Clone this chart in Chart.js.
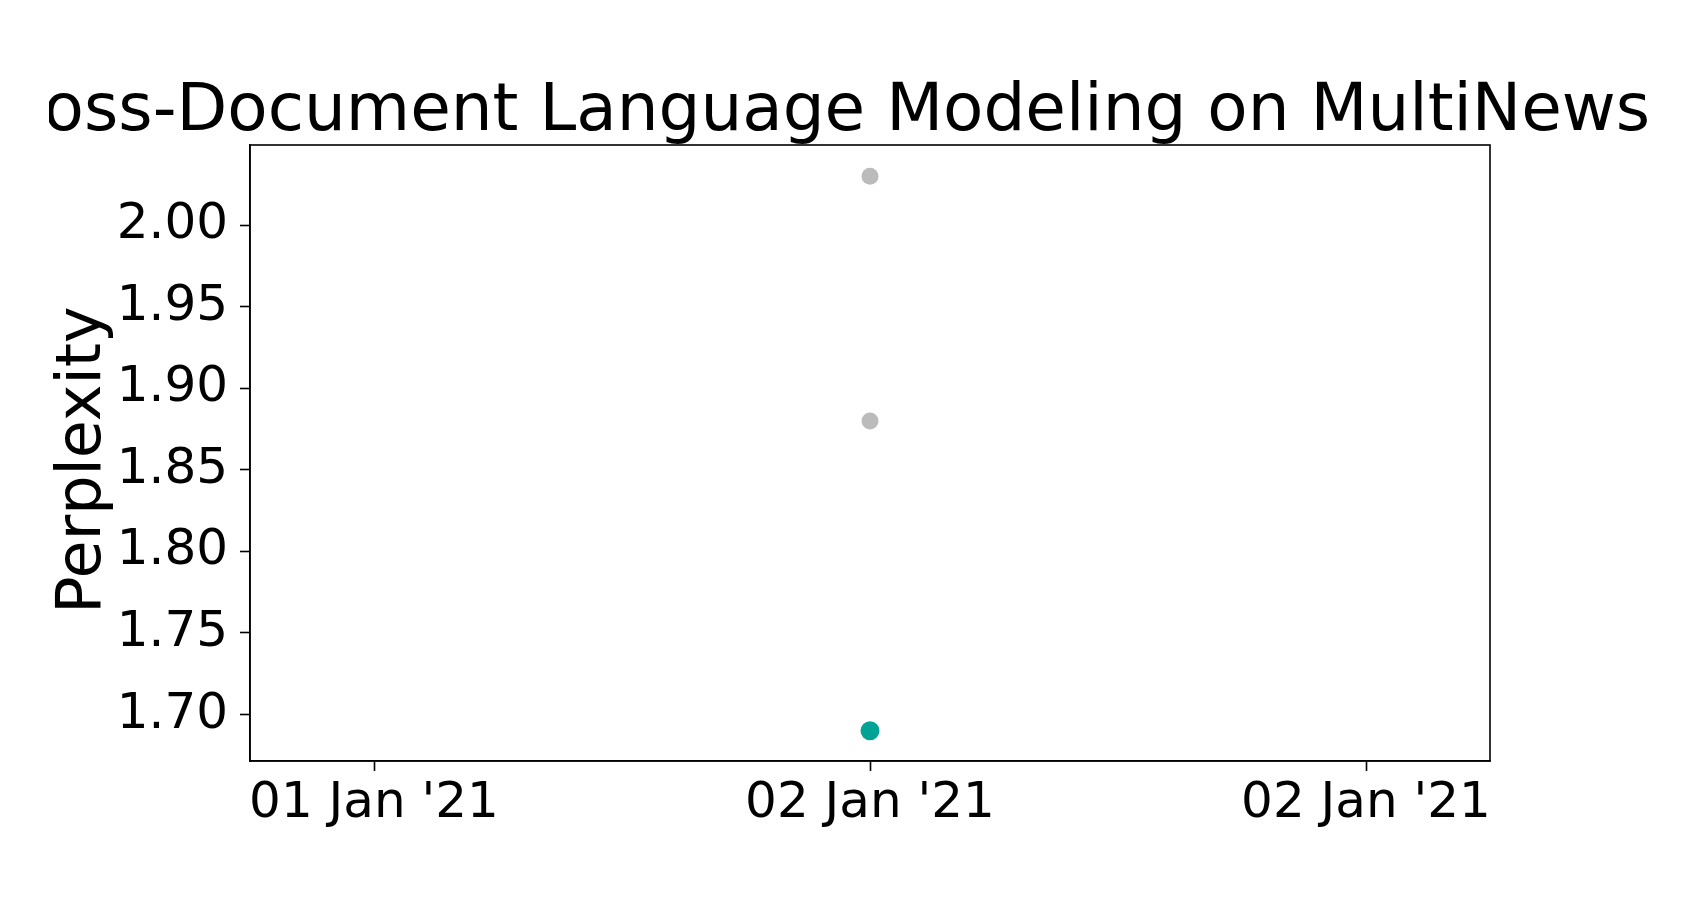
<!DOCTYPE html>
<html>
<head>
<meta charset="utf-8">
<title>Cross-Document Language Modeling on MultiNews</title>
<script src="https://cdn.jsdelivr.net/npm/chart.js@4/dist/chart.umd.min.js"></script>
<style>
    html, body { margin: 0; padding: 0; background: #fff; }
    canvas { display: block; }
</style>
</head>
<body>
<canvas id="chart" width="1700" height="900"></canvas>
<script>
    // hours relative to 02 Jan '21 00:00
    var baselineHours = [0, 0];
    var baselinePerplexity = [2.03, 1.88];
    var oursHours = [0];
    var oursPerplexity = [1.69];

    var tickHours = [-12, 0, 12];
    var tickLabels = ["01 Jan '21", "02 Jan '21", "02 Jan '21"];
    var yTicks = [1.70, 1.75, 1.80, 1.85, 1.90, 1.95, 2.00];

    var titleText = 'Cross-Document Language Modeling on MultiNews';
    var yLabelText = 'Perplexity';
    var fontFamily = "'DejaVu Sans', sans-serif";

    function toPoints(xs, ys) {
        return ys.map(function (y, i) { return {x: xs[i], y: y}; });
    }

    // matplotlib-like title (clipped to the figure area) and y label
    var texts = {
        id: 'texts',
        afterDraw: function (chart) {
            var ctx = chart.ctx;
            var a = chart.chartArea;
            ctx.save();
            ctx.beginPath();
            ctx.rect(49, 0, 1601, 200);
            ctx.clip();
            ctx.font = '66px ' + fontFamily;
            ctx.fillStyle = '#000';
            ctx.textAlign = 'center';
            ctx.textBaseline = 'alphabetic';
            ctx.fillText(titleText, 811, 130);
            ctx.restore();

            ctx.save();
            ctx.translate(100, (a.top + a.bottom) / 2 + 7);
            ctx.rotate(-Math.PI / 2);
            ctx.font = '62px ' + fontFamily;
            ctx.fillStyle = '#000';
            ctx.textAlign = 'center';
            ctx.textBaseline = 'alphabetic';
            ctx.fillText(yLabelText, 0, 0);
            ctx.restore();
        }
    };

    // full box around the plot area
    var frame = {
        id: 'frame',
        afterDatasetsDraw: function (chart) {
            var a = chart.chartArea;
            var ctx = chart.ctx;
            ctx.save();
            ctx.strokeStyle = '#000';
            ctx.lineWidth = 1.6;
            ctx.strokeRect(a.left, a.top, a.right - a.left, a.bottom - a.top);
            ctx.restore();
        }
    };

    var ctx = document.getElementById('chart').getContext('2d');
    new Chart(ctx, {
        type: 'scatter',
        data: {
            datasets: [{
                label: 'Ours',
                data: toPoints(oursHours, oursPerplexity),
                backgroundColor: '#00a394',
                borderWidth: 0,
                pointRadius: 9.5
            }, {
                label: 'Baselines',
                data: toPoints(baselineHours, baselinePerplexity),
                backgroundColor: '#bbbbbb',
                borderWidth: 0,
                pointRadius: 8.5
            }]
        },
        options: {
            responsive: false,
            animation: false,
            devicePixelRatio: 1,
            layout: {padding: {top: 145, right: 210, left: 0, bottom: 0}},
            plugins: {
                legend: {display: false},
                tooltip: {enabled: false},
                title: {display: false}
            },
            scales: {
                x: {
                    type: 'linear',
                    min: -15,
                    max: 15,
                    afterBuildTicks: function (scale) {
                        scale.ticks = tickHours.map(function (h) { return {value: h}; });
                    },
                    afterFit: function (scale) { scale.height = 139; },
                    ticks: {
                        autoSkip: false,
                        maxRotation: 0,
                        padding: 3,
                        color: '#000',
                        font: {family: fontFamily, size: 50},
                        callback: function (value, index) { return tickLabels[index]; }
                    },
                    grid: {
                        display: true,
                        drawOnChartArea: false,
                        drawTicks: true,
                        tickLength: 10,
                        tickColor: '#000',
                        tickWidth: 1.6
                    },
                    border: {display: true, color: '#000', width: 1.6}
                },
                y: {
                    min: 1.6715,
                    max: 2.0492,
                    afterBuildTicks: function (scale) {
                        scale.ticks = yTicks.map(function (v) { return {value: v}; });
                    },
                    afterFit: function (scale) { scale.width = 250; },
                    ticks: {
                        padding: 12,
                        color: '#000',
                        font: {family: fontFamily, size: 50},
                        callback: function (value) { return Number(value).toFixed(2); }
                    },
                    grid: {
                        display: true,
                        drawOnChartArea: false,
                        drawTicks: true,
                        tickLength: 10,
                        tickColor: '#000',
                        tickWidth: 1.6
                    },
                    border: {display: true, color: '#000', width: 1.6}
                }
            }
        },
        plugins: [frame, texts]
    });
</script>
</body>
</html>
